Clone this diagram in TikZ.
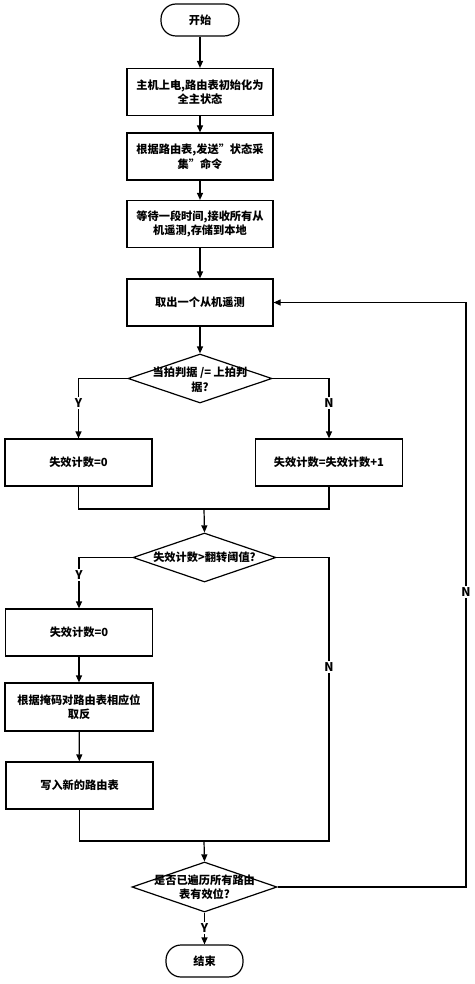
\documentclass[tikz,border=0pt]{standalone}
\usepackage{fontspec}
\setmainfont{Noto Sans CJK SC}
\usetikzlibrary{shapes.geometric,arrows.meta}
\newcommand{\fsz}{\fontsize{11.2pt}{14.5pt}\selectfont\bfseries}
\begin{document}
\begin{tikzpicture}[x=1pt,y=-1pt,
  line width=1.2pt,
  >={Triangle[length=7pt,width=6pt]},
  box/.style={draw, minimum width=146pt, minimum height=47pt, align=center, font=\fsz, inner sep=2pt},
  term/.style={draw, rounded corners=15pt, minimum width=78pt, minimum height=32pt, font=\fsz},
  dia/.style={draw, diamond, inner sep=0pt, minimum width=144pt, minimum height=49pt},
  dtext/.style={align=center, font=\fsz, inner sep=0pt},
  lab/.style={fill=white, font=\fontsize{12pt}{13pt}\selectfont\bfseries, inner sep=1.5pt}
]
\useasboundingbox (0,0) rectangle (474,984);
% nodes
\node[term] (start) at (200,20) {开始};
\node[box] (b1) at (200,92) {主机上电,路由表初始化为\\全主状态};
\node[box] (b2) at (200,156.5) {根据路由表,发送”状态采\\集”命令};
\node[box] (b3) at (200,224) {等待一段时间,接收所有从\\机遥测,存储到本地};
\node[box] (b4) at (200,302.5) {取出一个从机遥测};
\node[dia] (d1) at (200,378.5) {};
\node[dtext] (d1t) at (200,380) {当拍判据 /= 上拍判\\据?};
\node[box, minimum width=147pt] (b5) at (78.5,462.5) {失效计数=0};
\node[box, minimum width=147pt] (b6) at (329,462.5) {失效计数=失效计数+1};
\coordinate (j1) at (204,509);
\node[dia, minimum width=143pt] (d2) at (204.5,557.5) {};
\node[dtext] (d2t) at (d2) {失效计数>翻转阈值?};
\node[box, minimum width=147pt] (b7) at (79,632.5) {失效计数=0};
\node[box, minimum width=148pt, minimum height=48pt] (b8) at (79,707) {根据掩码对路由表相应位\\取反};
\node[box, minimum width=147pt] (b9) at (79.5,785.5) {写入新的路由表};
\coordinate (j2) at (204,841);
\coordinate (r2) at (329,841);
\node[dia, minimum width=145pt, minimum height=50pt] (d3) at (204.5,887) {};
\node[dtext] (d3t) at (204.5,887) {是否已遍历所有路由\\表有效位?};
\node[term, minimum width=77pt] (end) at (204.5,961) {结束};
\coordinate (lp1) at (466,887);
\coordinate (lp2) at (466,302.5);
% connectors
\draw[->] (start) -- (b1);
\draw[->] (b1) -- (b2);
\draw[->] (b2) -- (b3);
\draw[->] (b3) -- (b4);
\draw[->] (b4) -- (d1);
\draw[->] (d1.west) -| (b5.north);
\draw[->] (d1.east) -| (b6.north);
\draw (b5.south) |- (j1) -| (b6.south);
\draw[->] (j1) -- (d2.north);
\draw[->] (d2.west) -| (b7.north);
\draw (d2.east) -| (r2) -- (j2);
\draw[->] (b7) -- (b8);
\draw[->] (b8) -- (b9);
\draw (b9.south) |- (j2);
\draw[->] (j2) -- (d3.north);
\draw[->] (d3.south) -- (end);
\draw[->] (d3.east) -- (lp1) -- (lp2) -- (b4.east);
% labels
\node[lab] (y1) at (78.5,403) {Y};
\node[lab] (n1) at (329,403) {N};
\node[lab] (y2) at (79,575) {Y};
\node[lab] (n2) at (329,667) {N};
\node[lab] (n3) at (466,592) {N};
\node[lab] (y3) at (204.5,928) {Y};
\end{tikzpicture}
\end{document}
